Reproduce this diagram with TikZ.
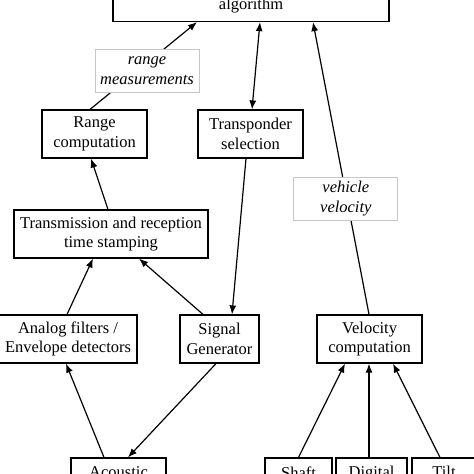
\documentclass[tikz,border=0pt]{standalone}
\usepackage{fontspec}
\setmainfont{Liberation Serif}
\usetikzlibrary{
		arrows.meta,
		positioning
	}
\tikzset{
		>={Latex[length=9pt,width=7pt]},
		block/.style={draw,line width=1.2pt,fill=white,align=center,inner sep=0pt,minimum height=48pt,font=\fontsize{16.5}{19.5}\selectfont},
		tag/.style={draw=black!22,line width=0.8pt,fill=white,align=center,inner sep=0pt,minimum width=104pt,minimum height=43pt,font=\fontsize{16.5}{19.5}\selectfont\itshape},
		link/.style={line width=1.2pt}
	}

\begin{document}
\begin{tikzpicture}[x=1pt, y=-1pt] % (one unit = one pixel of the frame, y going down)
		\useasboundingbox (0,0) rectangle (474,474);
		\clip (0,0) rectangle (474,474);
		% the blocks
		\node[block,minimum width=276pt,minimum height=32pt] (loc) at (251,5.5) {algorithm}; % cut by the frame
		\node[block,minimum width=105pt] (range) at (94.5,134) {Range\\computation};
		\node[block,minimum width=105pt] (transp) at (250.5,134) {Transponder\\selection};
		\node[block,minimum width=194pt] (stamp) at (111,234) {Transmission and reception\\time stamping};
		\node[block,minimum width=138pt] (analog) at (68,339) {Analog filters /\\Envelope detectors};
		\node[block,minimum width=79pt] (siggen) at (219.5,339) {Signal\\Generator};
		\node[block,minimum width=105pt] (vel) at (369.5,339) {Velocity\\computation};
		\node[block,minimum width=95pt] (acoustic) at (118.5,482) {Acoustic\\\mbox{}};
		\node[block,minimum width=67pt] (shaft) at (298.5,482) {Shaft\\\mbox{}};
		\node[block,minimum width=71pt] (digital) at (371.5,482) {Digital\\\mbox{}};
		\node[block,minimum width=64pt] (tilt) at (444,482) {Tilt\\\mbox{}};
		% the links
		\draw[link,->] ([xshift=-4.5pt]range.north) -- node[tag,pos=0.444,xshift=9.5pt]{range\\measurements} ([xshift=-54pt]loc.south);
		\draw[link,<->] ([xshift=1.5pt]transp.north) -- ([xshift=9pt]loc.south);
		\draw[link,->] ([xshift=-0.5pt]vel.north) -- node[tag,pos=0.396,xshift=-1pt]{vehicle\\velocity} ([xshift=62pt]loc.south);
		\draw[link,->] ([xshift=-3pt]stamp.north) -- ([xshift=-3.5pt]range.south);
		\draw[link,->] ([xshift=-1pt]analog.north) -- ([xshift=-18pt]stamp.south);
		\draw[link,->] ([xshift=-16.5pt]siggen.north) -- ([xshift=28pt]stamp.south);
		\draw[link,->] ([xshift=-4.5pt]transp.south) -- ([xshift=12.5pt]siggen.north);
		\draw[link,->] ([xshift=-14.5pt]acoustic.north) -- ([xshift=-2pt]analog.south);
		\draw[link,->] ([xshift=-3.5pt]siggen.south) -- ([xshift=9.5pt]acoustic.north);
		\draw[link,->] (shaft.north) -- ([xshift=-24.5pt]vel.south);
		\draw[link,->] ([xshift=-2.5pt]digital.north) -- ([xshift=-0.5pt]vel.south);
		\draw[link,->] ([xshift=-4pt]tilt.north) -- ([xshift=23.5pt]vel.south);
	\end{tikzpicture}
\end{document}
